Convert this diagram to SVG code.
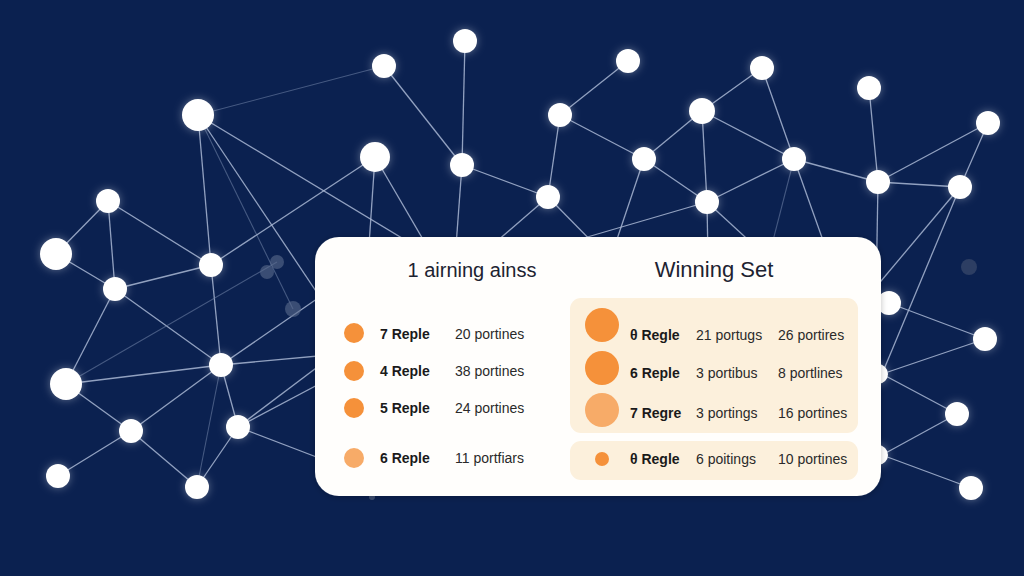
<svg xmlns="http://www.w3.org/2000/svg" width="1024" height="576" viewBox="0 0 1024 576">
<defs>
<filter id="glow" x="-1" y="-1" width="3" height="3">
<feGaussianBlur in="SourceAlpha" stdDeviation="4" result="b"/>
<feFlood flood-color="#ffffff" flood-opacity="0.35"/>
<feComposite in2="b" operator="in" result="g"/>
<feMerge><feMergeNode in="g"/><feMergeNode in="SourceGraphic"/></feMerge>
</filter>
<filter id="shadow" x="-0.1" y="-0.1" width="1.2" height="1.2">
<feGaussianBlur in="SourceAlpha" stdDeviation="3"/>
<feOffset dy="1" result="s"/>
<feFlood flood-color="#000000" flood-opacity="0.25"/>
<feComposite in2="s" operator="in" result="sh"/>
<feMerge><feMergeNode in="sh"/><feMergeNode in="SourceGraphic"/></feMerge>
</filter>
<style>
.e{stroke:#a9b7d3;stroke-width:1.3;fill:none;opacity:0.85}
.f{stroke:#6d7fa3;stroke-width:1.1;fill:none;opacity:0.6}
.n{fill:#ffffff;filter:url(#glow)}
.g{fill:#5a6b8c;opacity:0.6}
.t{font-family:"Liberation Sans",Arial,sans-serif;fill:#1d2331}
.lb{font-family:"Liberation Sans",Arial,sans-serif;font-size:14px;font-weight:bold;fill:#1a1a1a}
.nm{font-family:"Liberation Sans",Arial,sans-serif;font-size:14px;fill:#2a2a2a}
.o{fill:#f5913a}
.ol{fill:#f7ab68}
.box{fill:#fcf0dc}
</style>
</defs>
<rect width="1024" height="576" fill="#0b2150"/>
<g id="connectors">
<line class="f" x1="198" y1="115" x2="384" y2="66"/>
<line class="e" x1="384" y1="66" x2="462" y2="165"/>
<line class="e" x1="465" y1="41" x2="462" y2="165"/>
<line class="e" x1="198" y1="115" x2="211" y2="265"/>
<line class="e" x1="198" y1="115" x2="340" y2="327"/>
<line class="e" x1="198" y1="115" x2="440" y2="261"/>
<line class="f" x1="198" y1="115" x2="293" y2="309"/>
<line class="e" x1="375" y1="157" x2="211" y2="265"/>
<line class="e" x1="375" y1="157" x2="368" y2="260"/>
<line class="e" x1="375" y1="157" x2="435" y2="260"/>
<line class="e" x1="462" y1="165" x2="455" y2="260"/>
<line class="e" x1="462" y1="165" x2="548" y2="197"/>
<line class="e" x1="108" y1="201" x2="56" y2="254"/>
<line class="e" x1="108" y1="201" x2="211" y2="265"/>
<line class="e" x1="108" y1="201" x2="115" y2="289"/>
<line class="e" x1="56" y1="254" x2="115" y2="289"/>
<line class="e" x1="115" y1="289" x2="211" y2="265"/>
<line class="e" x1="548" y1="197" x2="475" y2="260"/>
<line class="e" x1="560" y1="115" x2="628" y2="61"/>
<line class="e" x1="560" y1="115" x2="548" y2="197"/>
<line class="e" x1="560" y1="115" x2="644" y2="159"/>
<line class="e" x1="548" y1="197" x2="610" y2="260"/>
<line class="e" x1="702" y1="111" x2="644" y2="159"/>
<line class="e" x1="702" y1="111" x2="762" y2="68"/>
<line class="e" x1="702" y1="111" x2="707" y2="202"/>
<line class="e" x1="702" y1="111" x2="794" y2="159"/>
<line class="e" x1="762" y1="68" x2="794" y2="159"/>
<line class="e" x1="644" y1="159" x2="707" y2="202"/>
<line class="e" x1="644" y1="159" x2="610" y2="260"/>
<line class="e" x1="707" y1="202" x2="560" y2="245"/>
<line class="e" x1="707" y1="202" x2="708" y2="260"/>
<line class="e" x1="707" y1="202" x2="770" y2="260"/>
<line class="e" x1="794" y1="159" x2="707" y2="202"/>
<line class="e" x1="794" y1="159" x2="830" y2="260"/>
<line class="f" x1="794" y1="159" x2="768" y2="260"/>
<line class="e" x1="794" y1="159" x2="878" y2="182"/>
<line class="e" x1="869" y1="88" x2="878" y2="182"/>
<line class="e" x1="878" y1="182" x2="988" y2="123"/>
<line class="e" x1="878" y1="182" x2="960" y2="187"/>
<line class="e" x1="988" y1="123" x2="960" y2="187"/>
<line class="e" x1="878" y1="182" x2="876" y2="300"/>
<line class="e" x1="960" y1="187" x2="855" y2="312"/>
<line class="e" x1="960" y1="187" x2="882" y2="374"/>
<line class="e" x1="889" y1="303" x2="985" y2="339"/>
<line class="e" x1="985" y1="339" x2="882" y2="374"/>
<line class="e" x1="882" y1="374" x2="957" y2="414"/>
<line class="e" x1="957" y1="414" x2="882" y2="455"/>
<line class="e" x1="882" y1="455" x2="971" y2="488"/>
<line class="e" x1="211" y1="265" x2="221" y2="365"/>
<line class="e" x1="115" y1="289" x2="66" y2="384"/>
<line class="e" x1="115" y1="289" x2="221" y2="365"/>
<line class="e" x1="66" y1="384" x2="221" y2="365"/>
<line class="e" x1="66" y1="384" x2="131" y2="431"/>
<line class="e" x1="221" y1="365" x2="131" y2="431"/>
<line class="e" x1="131" y1="431" x2="58" y2="476"/>
<line class="e" x1="131" y1="431" x2="197" y2="487"/>
<line class="e" x1="221" y1="365" x2="238" y2="427"/>
<line class="e" x1="238" y1="427" x2="197" y2="487"/>
<line class="f" x1="221" y1="365" x2="197" y2="487"/>
<line class="e" x1="221" y1="365" x2="340" y2="354"/>
<line class="e" x1="221" y1="365" x2="340" y2="283"/>
<line class="f" x1="66" y1="384" x2="277" y2="262"/>
<line class="e" x1="238" y1="427" x2="340" y2="350"/>
<line class="e" x1="238" y1="427" x2="340" y2="373"/>
<line class="e" x1="238" y1="427" x2="340" y2="466"/>
</g>
<g id="faint-nodes">
<circle class="g" cx="277" cy="262" r="7"/>
<circle class="g" cx="267" cy="272" r="7"/>
<circle class="g" cx="293" cy="309" r="8"/>
<circle cx="969" cy="267" r="8" fill="#2d3e63"/>
<circle cx="372" cy="497" r="3" fill="#3d4f72"/>
</g>
<g id="nodes">
<circle id="n1" class="n" cx="465" cy="41" r="12"/>
<circle id="n2" class="n" cx="384" cy="66" r="12"/>
<circle id="n3" class="n" cx="198" cy="115" r="16"/>
<circle id="n4" class="n" cx="375" cy="157" r="15"/>
<circle id="n5" class="n" cx="462" cy="165" r="12"/>
<circle id="n6" class="n" cx="560" cy="115" r="12"/>
<circle id="n7" class="n" cx="628" cy="61" r="12"/>
<circle id="n8" class="n" cx="702" cy="111" r="13"/>
<circle id="n9" class="n" cx="762" cy="68" r="12"/>
<circle id="n10" class="n" cx="644" cy="159" r="12"/>
<circle id="n11" class="n" cx="707" cy="202" r="12"/>
<circle id="n12" class="n" cx="794" cy="159" r="12"/>
<circle id="n13" class="n" cx="869" cy="88" r="12"/>
<circle id="n14" class="n" cx="988" cy="123" r="12"/>
<circle id="n15" class="n" cx="878" cy="182" r="12"/>
<circle id="n16" class="n" cx="960" cy="187" r="12"/>
<circle id="n17" class="n" cx="548" cy="197" r="12"/>
<circle id="n18" class="n" cx="108" cy="201" r="12"/>
<circle id="n19" class="n" cx="56" cy="254" r="16"/>
<circle id="n20" class="n" cx="211" cy="265" r="12"/>
<circle id="n21" class="n" cx="115" cy="289" r="12"/>
<circle id="n22" class="n" cx="221" cy="365" r="12"/>
<circle id="n23" class="n" cx="66" cy="384" r="16"/>
<circle id="n24" class="n" cx="131" cy="431" r="12"/>
<circle id="n25" class="n" cx="238" cy="427" r="12"/>
<circle id="n26" class="n" cx="58" cy="476" r="12"/>
<circle id="n27" class="n" cx="197" cy="487" r="12"/>
<circle id="n28" class="n" cx="889" cy="303" r="12"/>
<circle id="n29" class="n" cx="985" cy="339" r="12"/>
<circle id="n30" class="n" cx="957" cy="414" r="12"/>
<circle id="n31" class="n" cx="971" cy="488" r="12"/>
<circle id="nA" class="n" cx="878" cy="374" r="10"/>
<circle id="nB" class="n" cx="878" cy="455" r="10"/>
</g>
<g id="card">
<rect x="315" y="237" width="566" height="259" rx="24" fill="#fffefc" filter="url(#shadow)"/>
<text class="t" x="472" y="277" font-size="20" text-anchor="middle">1 airning ainss</text>
<text class="t" x="714" y="277" font-size="22" text-anchor="middle">Winning Set</text>
</g>
<g id="left-list">
<circle class="o" cx="354" cy="333" r="10"/>
<text class="lb" x="380" y="339">7 Reple</text>
<text class="nm" x="455" y="339">20 portines</text>
<circle class="o" cx="354" cy="371" r="10"/>
<text class="lb" x="380" y="376">4 Reple</text>
<text class="nm" x="455" y="376">38 portines</text>
<circle class="o" cx="354" cy="408" r="10"/>
<text class="lb" x="380" y="413">5 Reple</text>
<text class="nm" x="455" y="413">24 portines</text>
<circle class="ol" cx="354" cy="458" r="10"/>
<text class="lb" x="380" y="463">6 Reple</text>
<text class="nm" x="455" y="463">11 portfiars</text>
</g>
<g id="winning-set">
<rect class="box" x="570" y="298" width="288" height="135" rx="11"/>
<rect class="box" x="570" y="441" width="288" height="39" rx="11"/>
<circle class="o" cx="602" cy="325" r="17"/>
<text class="lb" x="630" y="340">θ Regle</text>
<text class="nm" x="696" y="340">21 portugs</text>
<text class="nm" x="778" y="340">26 portires</text>
<circle class="o" cx="602" cy="368" r="17"/>
<text class="lb" x="630" y="378">6 Reple</text>
<text class="nm" x="696" y="378">3 portibus</text>
<text class="nm" x="778" y="378">8 portlines</text>
<circle class="ol" cx="602" cy="410" r="17"/>
<text class="lb" x="630" y="418">7 Regre</text>
<text class="nm" x="696" y="418">3 portings</text>
<text class="nm" x="778" y="418">16 portines</text>
<circle class="o" cx="602" cy="459" r="7"/>
<text class="lb" x="630" y="464">θ Regle</text>
<text class="nm" x="696" y="464">6 poitings</text>
<text class="nm" x="778" y="464">10 portines</text>
</g>
</svg>
